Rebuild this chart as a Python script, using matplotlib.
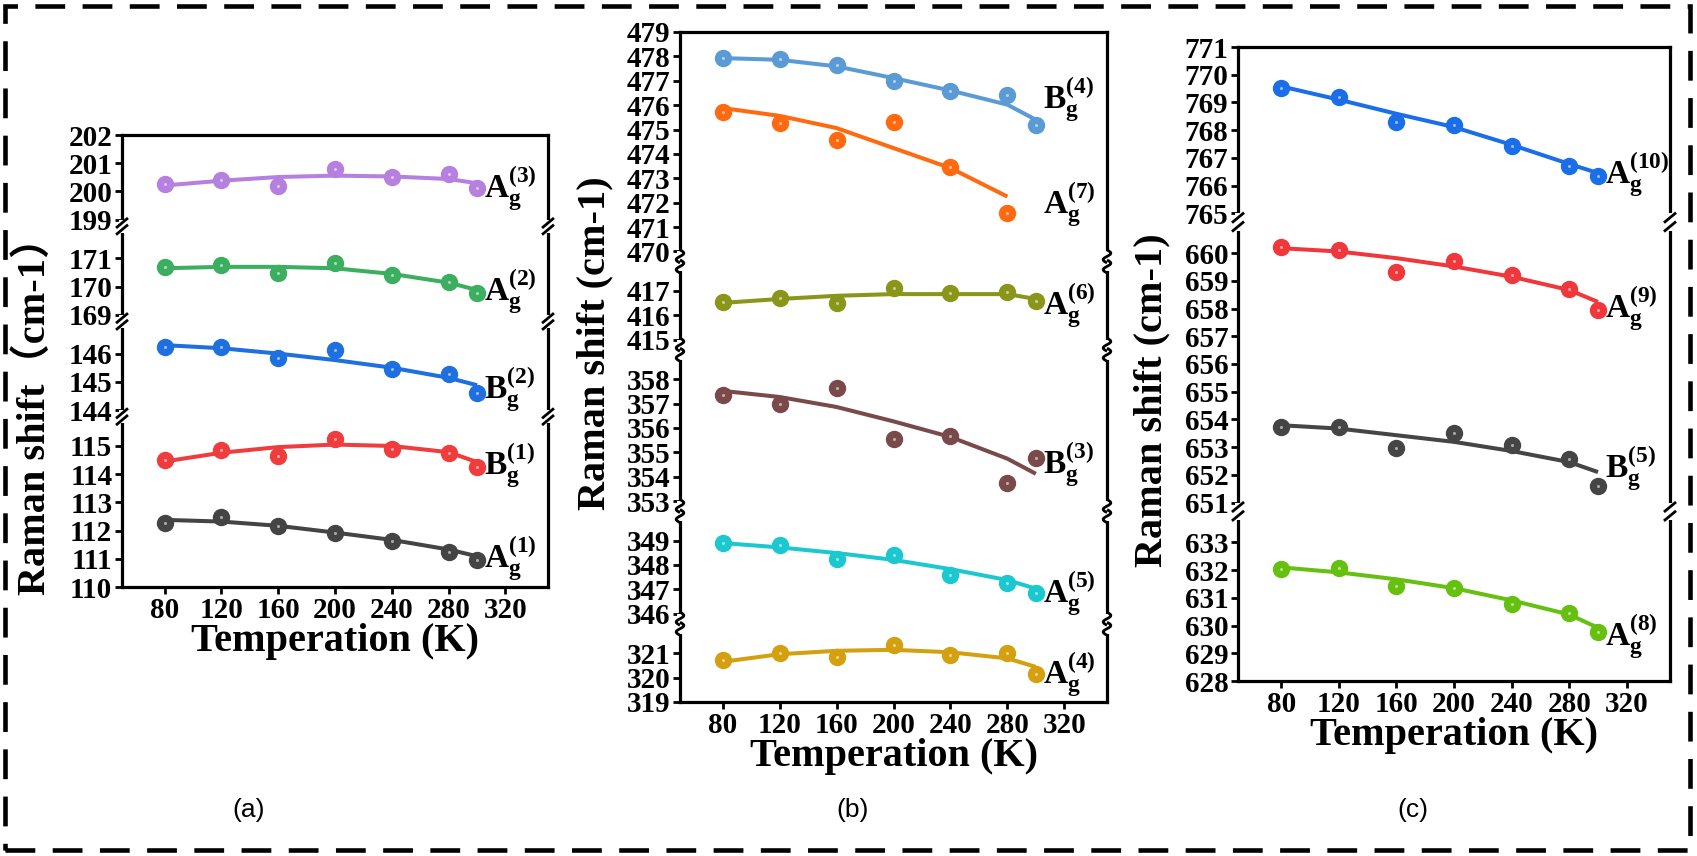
import numpy as np
import matplotlib
matplotlib.use("Agg")
import matplotlib.pyplot as plt
from matplotlib.patches import Rectangle
from matplotlib.font_manager import FontProperties

plt.rcParams['font.family'] = ['Liberation Serif', 'Noto Sans CJK SC', 'DejaVu Sans']
plt.rcParams['font.weight'] = 'bold'
plt.rcParams['mathtext.fontset'] = 'custom'
plt.rcParams['mathtext.rm'] = 'Liberation Serif:bold'
plt.rcParams['mathtext.bf'] = 'Liberation Serif:bold'
plt.rcParams['mathtext.it'] = 'Liberation Serif:bold'

T = [80, 120, 160, 200, 240, 280, 300]
T6 = [80, 120, 160, 200, 240, 280]
x_ticks = [80, 120, 160, 200, 240, 280, 320]

# (a) measured points and fitted curves
a_A3 = [200.28, 200.42, 200.19, 200.80, 200.52, 200.60, 200.13]
a_A3_fit = [200.21, 200.38, 200.51, 200.56, 200.53, 200.44, 200.29]
a_A2 = [170.71, 170.76, 170.47, 170.85, 170.41, 170.18, 169.79]
a_A2_fit = [170.65, 170.70, 170.70, 170.65, 170.45, 170.14, 169.88]
a_B2 = [146.24, 146.24, 145.86, 146.12, 145.44, 145.29, 144.61]
a_B2_fit = [146.30, 146.19, 146.00, 145.77, 145.50, 145.14, 144.88]
a_B1 = [114.49, 114.84, 114.64, 115.24, 114.90, 114.76, 114.25]
a_B1_fit = [114.45, 114.76, 114.96, 115.05, 115.00, 114.78, 114.43]
a_A1 = [112.26, 112.48, 112.17, 111.93, 111.63, 111.24, 110.94]
a_A1_fit = [112.38, 112.32, 112.17, 111.93, 111.67, 111.33, 111.09]

# (b)
b_B4 = [477.93, 477.89, 477.66, 476.97, 476.56, 476.43, 475.20]
b_B4_fit = [477.93, 477.86, 477.59, 477.11, 476.60, 476.02, 475.40]
b_A7 = [475.70, 475.26, 474.58, 475.29, 473.46, 471.57]
b_A7_fit = [475.88, 475.56, 475.06, 474.24, 473.42, 472.25]
b_A6 = [416.53, 416.73, 416.51, 417.13, 416.91, 416.96, 416.60]
b_A6_fit = [416.51, 416.67, 416.80, 416.87, 416.87, 416.87, 416.67]
b_B3 = [357.37, 357.00, 357.64, 355.56, 355.67, 353.75, 354.77]
b_B3_fit = [357.52, 357.27, 356.86, 356.27, 355.63, 354.74, 354.12]
b_A5 = [348.90, 348.83, 348.25, 348.42, 347.58, 347.28, 346.86]
b_A5_fit = [348.90, 348.72, 348.49, 348.21, 347.83, 347.38, 347.03]
b_A4 = [320.72, 321.00, 320.86, 321.32, 320.93, 321.00, 320.15]
b_A4_fit = [320.65, 320.96, 321.10, 321.14, 321.04, 320.79, 320.44]

# (c)
c_A10 = [769.52, 769.19, 768.31, 768.19, 767.41, 766.71, 766.35]
c_A10_fit = [769.58, 769.10, 768.59, 768.11, 767.47, 766.78, 766.45]
c_A9 = [660.24, 660.10, 659.33, 659.73, 659.21, 658.69, 657.94]
c_A9_fit = [660.18, 660.06, 659.82, 659.52, 659.15, 658.67, 658.24]
c_B5 = [653.71, 653.71, 652.98, 653.52, 653.07, 652.58, 651.61]
c_B5_fit = [653.79, 653.67, 653.43, 653.19, 652.86, 652.46, 652.10]
c_A8 = [632.04, 632.07, 631.43, 631.35, 630.79, 630.46, 629.77]
c_A8_fit = [632.10, 631.92, 631.67, 631.35, 630.91, 630.40, 629.92]


def mode(letter, n):
    return r'$\mathbf{%s}_\mathbf{g}^\mathbf{(%s)}$' % (letter, n)


# segments of the broken y axes, series: (label, colour, x, y, fit, label y)
panels = [
    dict(rect=(122, 135, 548, 587), segs=[(110, 115.8), (144, 146.9), (169, 171.9), (199, 202)],
         gap=0.475, brk='slash', ylab='Raman shift\uff08cm-1\uff09', ylab_pos=(-0.16, 0.40),
         tag='(a)', tag_x=249,
         series=[(mode('A', 3), '#b580e0', T, a_A3, a_A3_fit, 200.1),
                 (mode('A', 2), '#3cae60', T, a_A2, a_A2_fit, 169.8),
                 (mode('B', 2), '#1e6fe0', T, a_B2, a_B2_fit, 144.7),
                 (mode('B', 1), '#f03c3c', T, a_B1, a_B1_fit, 114.3),
                 (mode('A', 1), '#444444', T, a_A1, a_A1_fit, 111.0)]),
    dict(rect=(680, 32, 1107, 702), segs=[(319, 321.8), (346, 349.8), (353, 358.8), (415, 417.8), (470, 479)],
         gap=0.82, brk='wave', ylab='Raman shift (cm-1)', ylab_pos=(-0.155, 0.536),
         tag='(b)', tag_x=853,
         series=[(mode('B', 4), '#5b9bd5', T, b_B4, b_B4_fit, 476.2),
                 (mode('A', 7), '#ff6a10', T6, b_A7, b_A7_fit, 471.9),
                 (mode('A', 6), '#8a9619', T, b_A6, b_A6_fit, 416.4),
                 (mode('B', 3), '#7a4a4a', T, b_B3, b_B3_fit, 354.5),
                 (mode('A', 5), '#1cc8d0', T, b_A5, b_A5_fit, 346.8),
                 (mode('A', 4), '#d4a010', T, b_A4, b_A4_fit, 320.1)]),
    dict(rect=(1238, 47, 1670, 681), segs=[(628, 633.8), (651, 660.8), (765, 771)],
         gap=0.64, brk='slash', ylab='Raman shift (cm-1)', ylab_pos=(-0.157, 0.443),
         tag='(c)', tag_x=1413,
         series=[(mode('A', 10), '#1a6ee8', T, c_A10, c_A10_fit, 766.4),
                 (mode('A', 9), '#f0383c', T, c_A9, c_A9_fit, 658.0),
                 (mode('B', 5), '#454545', T, c_B5, c_B5_fit, 652.2),
                 (mode('A', 8), '#66c010', T, c_A8, c_A8_fit, 629.6)]),
]

W, H = 1697, 856
fig = plt.figure(figsize=(W / 100, H / 100), dpi=100)
tick_font = FontProperties(family='Liberation Serif', weight='bold', size=21)


def broken_scale(segs, gap):
    vals, us = [], []
    u = 0.0
    for lo, hi in segs:
        vals += [lo, hi]
        us += [u, u + hi - lo]
        u += hi - lo + gap
    vals = [vals[0] - 1e4] + vals + [vals[-1] + 1e4]
    us = [us[0] - 1e4] + us + [us[-1] + 1e4]
    vals, us = np.array(vals), np.array(us)
    fwd = lambda v: np.interp(v, vals, us)
    inv = lambda w: np.interp(w, us, vals)
    return fwd, inv


for p in panels:
    l, t, r, b = p['rect']
    ax = fig.add_axes([l / W, 1 - b / H, (r - l) / W, (b - t) / H])
    segs = p['segs']
    fwd, inv = broken_scale(segs, p['gap'])
    ax.set_yscale('function', functions=(fwd, inv))
    ax.set_ylim(segs[0][0], segs[-1][1])
    ax.set_xlim(50, 350)

    for name, col, x, y, yfit, ly in p['series']:
        ax.plot(x, yfit, color=col, lw=2.9, zorder=2, solid_capstyle='butt')
        ax.plot(x, y, 'o', color=col, ms=11.5, mec=col, zorder=3)
        ax.plot(x, y, 'o', color='white', ms=2.2, alpha=0.55, mew=0, zorder=4)
        ax.text(305, ly, name, fontsize=24, va='center', ha='left', zorder=5)

    yt = []
    for lo, hi in segs:
        yt += list(range(int(np.ceil(lo)), int(np.floor(hi)) + 1))
    ax.set_yticks(yt)
    ax.set_yticklabels([str(v) for v in yt])
    ax.yaxis.set_minor_locator(matplotlib.ticker.NullLocator())
    ax.set_xticks(x_ticks)
    ax.set_xticklabels([str(v) for v in x_ticks])
    ax.tick_params(axis='both', direction='out', length=5, width=2, pad=2,
                   top=False, right=False)
    for lbl in ax.get_xticklabels() + ax.get_yticklabels():
        lbl.set_fontproperties(tick_font)
    for s in ax.spines.values():
        s.set_linewidth(2.3)

    ax.set_xlabel('Temperation (K)', fontsize=29, fontweight='bold')
    ax.xaxis.set_label_coords(0.5, -36 / (b - t))
    ax.set_ylabel(p['ylab'], fontsize=29, fontweight='bold')
    ax.yaxis.set_label_coords(*p['ylab_pos'])

    # axis break marks on both spines
    u0, u1 = fwd(segs[0][0]), fwd(segs[-1][1])
    dy = 5 / (b - t)
    s = np.linspace(-1, 1, 20)
    for (lo, hi), (lo2, hi2) in zip(segs[:-1], segs[1:]):
        ya = (fwd(hi) - u0) / (u1 - u0)
        yb = (fwd(lo2) - u0) / (u1 - u0)
        for xs in (0, 1):
            ax.add_patch(Rectangle((xs - 0.008, ya), 0.016, yb - ya, transform=ax.transAxes,
                                   facecolor='white', edgecolor='none', clip_on=False, zorder=6))
            for yy in (ya + 0.25 * (yb - ya), yb - 0.25 * (yb - ya)):
                if p['brk'] == 'slash':
                    bx, by = [xs - 0.014, xs + 0.014], [yy - dy, yy + dy]
                else:
                    bx, by = xs + 0.009 * np.sin(np.pi * s), yy + 1.3 * dy * s
                ax.plot(bx, by, transform=ax.transAxes, color='black', lw=2,
                        clip_on=False, zorder=7, solid_capstyle='butt')

    fig.text(p['tag_x'] / W, 1 - 810 / H, p['tag'], fontsize=19, fontweight='normal',
             family='Liberation Sans', ha='center', va='center')

fig.add_artist(Rectangle((5 / W, 6 / H), 1685 / W, 844 / H, transform=fig.transFigure,
                         fill=False, lw=3.3, ls=(0, (6.5, 3.8)), ec='black'))

fig.savefig('out.png', dpi=100)
